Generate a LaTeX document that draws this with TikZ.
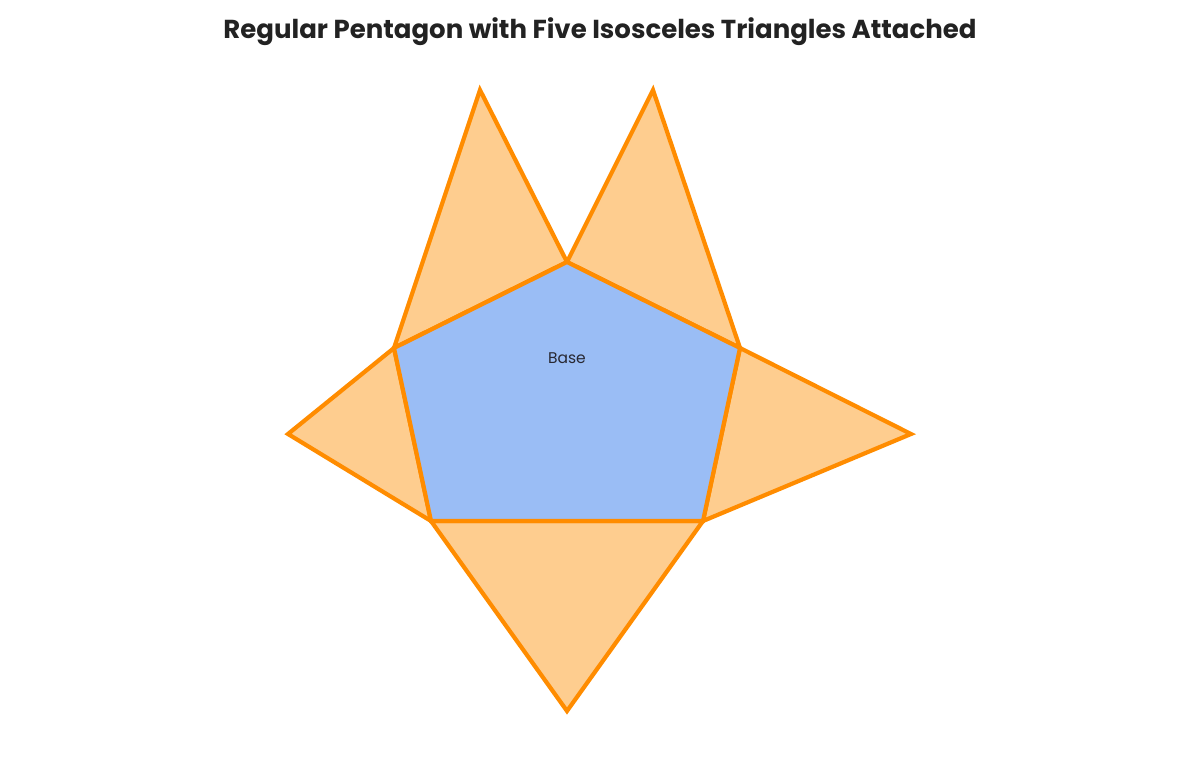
\documentclass[tikz,border=0pt]{standalone}
\usepackage{fontspec}
\setmainfont{Poppins}
\begin{document}
\begin{tikzpicture}[x=1pt,y=-1pt,
  edge/.style={draw={rgb,255:red,255;green,140;blue,0},line width=4.2pt,line join=miter},
  sidetri/.style={edge,fill={rgb,255:red,254;green,205;blue,143}},
  basepent/.style={edge,fill={rgb,255:red,154;green,189;blue,245}}]
\useasboundingbox (0,0) rectangle (1200,763);
\coordinate (P1) at (567,262);
\coordinate (P2) at (394,348);
\coordinate (P3) at (431,521);
\coordinate (P4) at (703,521);
\coordinate (P5) at (740,348);
\coordinate (T1) at (480,90);
\coordinate (T2) at (653,90);
\coordinate (T3) at (288,434);
\coordinate (T4) at (911,434);
\coordinate (T5) at (567,711);
\path[sidetri] (P1) -- (T1) -- (P2) -- cycle;
\path[sidetri] (P1) -- (T2) -- (P5) -- cycle;
\path[sidetri] (P2) -- (T3) -- (P3) -- cycle;
\path[sidetri] (P5) -- (T4) -- (P4) -- cycle;
\path[sidetri] (P3) -- (T5) -- (P4) -- cycle;
\path[basepent] (P1) -- (P2) -- (P3) -- (P4) -- (P5) -- cycle;
\node[text={rgb,255:red,40;green,40;blue,50},font=\fontsize{15.5}{18}\selectfont] (base) at (567,358) {Base};
\node[text={rgb,255:red,34;green,34;blue,34},font=\fontsize{26}{30}\selectfont\bfseries] (title) at (600,32) {Regular Pentagon with Five Isosceles Triangles Attached};
\end{tikzpicture}
\end{document}
